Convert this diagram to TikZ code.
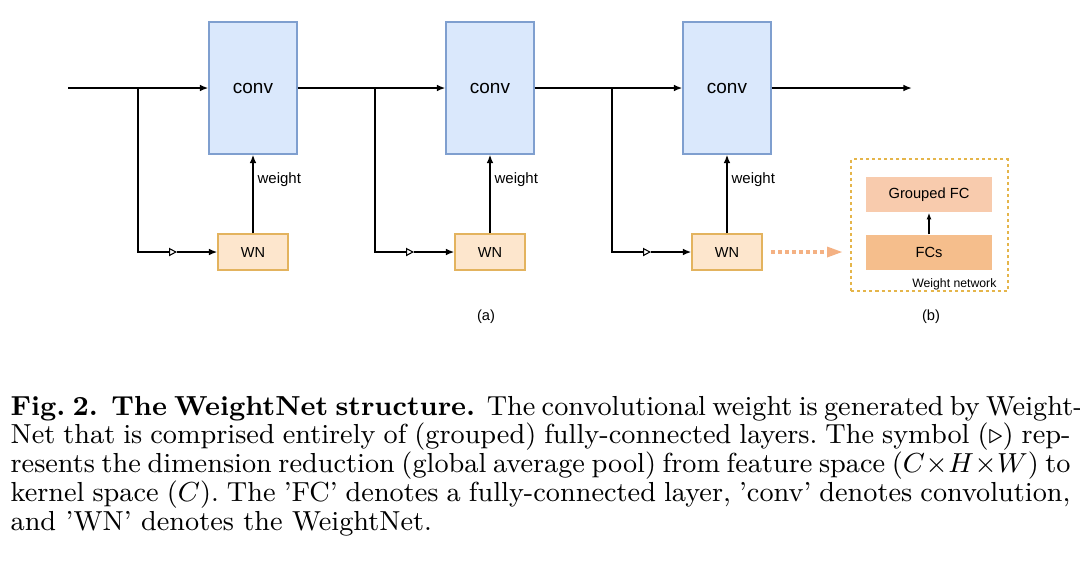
\documentclass[tikz,border=0pt]{standalone}
\usepackage{fontspec}
\newfontfamily\dia{Liberation Sans}
\usetikzlibrary{arrows.meta}
\definecolor{convfill}{HTML}{DAE8FC}
\definecolor{convdraw}{HTML}{7F9FCF}
\definecolor{wnfill}{HTML}{FDE6CD}
\definecolor{wndraw}{HTML}{E3B35E}
\definecolor{gfcfill}{HTML}{F8CBAD}
\definecolor{fcsfill}{HTML}{F5BE8C}
\definecolor{dotarrow}{HTML}{F4B183}
\definecolor{dotbox}{HTML}{E5B54A}
\def\pxu{0.327pt}
\tikzset{
  convbox/.style={draw=convdraw, fill=convfill, line width=0.35pt,
    minimum width=88*\pxu, minimum height=132*\pxu, inner sep=0pt,
    font=\dia\fontsize{6.2}{7}\selectfont},
  wnbox/.style={draw=wndraw, fill=wnfill, line width=0.35pt,
    minimum width=70*\pxu, minimum height=36*\pxu, inner sep=0pt,
    font=\dia\fontsize{4.75}{5.5}\selectfont},
  fcbox/.style={minimum width=126*\pxu, minimum height=35*\pxu, inner sep=0pt,
    font=\dia\fontsize{4.8}{5.5}\selectfont},
  flow/.style={line width=0.62pt, -{Latex[length=2.8pt,width=2.2pt]}},
  pooltip/.style={line width=0.62pt, -{Triangle[open,length=2.6pt,width=2.7pt,line width=0.35pt]}},
  wlabel/.style={anchor=west, inner sep=0pt, font=\dia\fontsize{4.9}{5.5}\selectfont},
  sublabel/.style={inner sep=0pt, font=\dia\fontsize{4.8}{5.5}\selectfont},
  capline/.style={anchor=base west, inner sep=0pt, font=\fontsize{9}{11}\selectfont\frenchspacing},
}
\begin{document}
\begin{tikzpicture}[x=0.327pt, y=-0.327pt]
\useasboundingbox (0,0) rectangle (1080,562);

% conv boxes
\node[convbox] (conv1) at (253,88) {conv};
\node[convbox] (conv2) at (490,88) {conv};
\node[convbox] (conv3) at (727,88) {conv};

% WN boxes
\node[wnbox] (wn1) at (253,252) {WN};
\node[wnbox] (wn2) at (490,252) {WN};
\node[wnbox] (wn3) at (727,252) {WN};

% coordinates
\coordinate (in) at (68,88);
\coordinate (out) at (912,88);
\coordinate (b1) at (138,88);
\coordinate (b2) at (375,88);
\coordinate (b3) at (612,88);
\coordinate (t1) at (177,252);
\coordinate (t2) at (414,252);
\coordinate (t3) at (651,252);

% main flow
\draw[flow] (in) -- (conv1);
\draw[flow] (conv1) -- (conv2);
\draw[flow] (conv2) -- (conv3);
\draw[flow] (conv3) -- (out);

% branches
\draw[pooltip] (b1) |- (t1);
\draw[flow] (t1) -- (wn1);
\draw[pooltip] (b2) |- (t2);
\draw[flow] (t2) -- (wn2);
\draw[pooltip] (b3) |- (t3);
\draw[flow] (t3) -- (wn3);

% weight arrows
\draw[flow] (wn1) -- (conv1) node[wlabel, pos=0.7, xshift=1.2pt, yshift=-0.6pt] {weight};
\draw[flow] (wn2) -- (conv2) node[wlabel, pos=0.7, xshift=1.2pt, yshift=-0.6pt] {weight};
\draw[flow] (wn3) -- (conv3) node[wlabel, pos=0.7, xshift=1.2pt, yshift=-0.6pt] {weight};

% weight network (b)
\node[draw=dotbox, line width=0.45pt, dash pattern=on 1pt off 1pt,
      minimum width=157*\pxu, minimum height=132*\pxu, inner sep=0pt] (wnet) at (929.5,225) {};
\node[fcbox, fill=gfcfill] (gfc) at (929,194.5) {Grouped FC};
\node[fcbox, fill=fcsfill] (fcs) at (929,252.5) {FCs};
\draw[line width=0.42pt, -{Latex[length=2.2pt,width=1.6pt]}] (fcs) -- (gfc);
\node[anchor=base east, inner sep=0pt, font=\dia\fontsize{4}{5}\selectfont] (wnetlabel) at (997,287) {Weight network};

% dotted arrow WN -> weight network
\coordinate (ds) at (771,252);
\coordinate (de) at (842,252);
\draw[dotarrow, line width=1.3pt, dash pattern=on 1.3pt off 1pt,
      -{Triangle[length=4.9pt,width=3.6pt,line width=0pt]}] (ds) -- (de);

% sub labels
\node[sublabel] (suba) at (486,317) {(a)};
\node[sublabel] (subb) at (931,317) {(b)};

% caption
\node[capline] (cap1) at (10,415) {\makebox[346.6pt][s]{{\nonfrenchspacing\textbf{Fig.~2. The WeightNet structure.}} The convolutional weight is generated by Weight-}};
\node[capline] (cap2) at (10,443.8) {\makebox[346.6pt][s]{Net that is comprised entirely of (grouped) fully-connected layers. The symbol ($\triangleright$) rep-}};
\node[capline] (cap3) at (10,472.6) {\makebox[346.6pt][s]{resents the dimension reduction (global average pool) from feature space ($C\times H\times W$) to}};
\node[capline] (cap4) at (10,501.4) {\makebox[346.6pt][s]{kernel space ($C$). The 'FC' denotes a fully-connected layer, 'conv' denotes convolution,}};
\node[capline] (cap5) at (10,530.2) {and 'WN' denotes the WeightNet.};
\end{tikzpicture}
\end{document}
